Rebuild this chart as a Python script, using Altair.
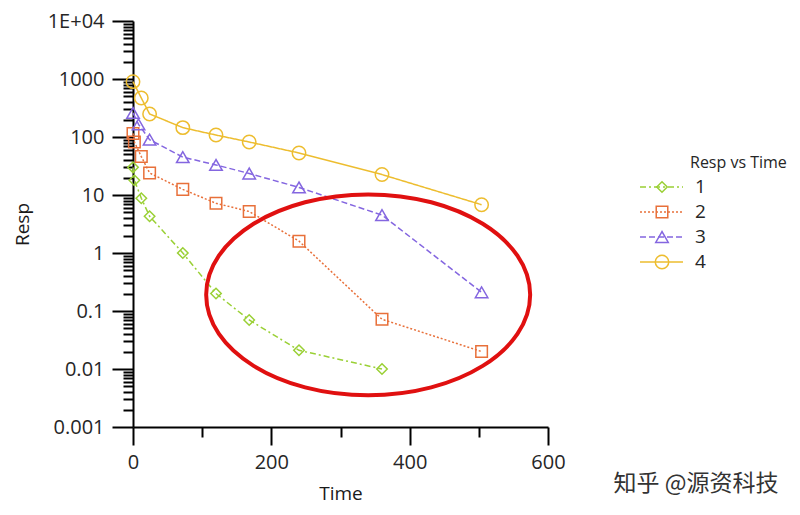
import altair as alt
import pandas as pd

# ---- data ----
series_names = ["1", "2", "3", "4"]
s1_time = [0, 2, 12, 24, 72, 120, 168, 240, 360]
s1_resp = [30, 18, 8.8, 4.3, 1.0, 0.2, 0.07, 0.021, 0.01]
s2_time = [0, 2, 12, 24, 72, 120, 168, 240, 360, 504]
s2_resp = [115, 82, 46, 24, 12.5, 7.2, 5.2, 1.6, 0.072, 0.02]
s3_time = [0, 8, 24, 72, 120, 168, 240, 360, 504]
s3_resp = [260, 165, 90, 45, 33, 23.5, 13.5, 4.5, 0.21]
s4_time = [0, 12, 24, 72, 120, 168, 240, 360, 504]
s4_resp = [900, 470, 250, 145, 108, 82, 53, 22.5, 6.8]

x_ticks = [0, 100, 200, 300, 400, 500, 600]
y_major = [0.001, 0.01, 0.1, 1, 10, 100, 1000, 10000]

# annotation ellipse (center in data units)
ell_time = [340]
ell_resp = [0.19]

colors = ["#9AD035", "#E8703A", "#8466E0", "#EDBD2F"]
shapes = ["diamond", "square", "triangle-up", "circle"]
dashes = [[6, 3, 2, 3], [2, 2], [6, 3], [1, 0]]
sizes = [110, 180, 150, 190]

rows = []
for name, ts, rs in zip(series_names, [s1_time, s2_time, s3_time, s4_time],
                        [s1_resp, s2_resp, s3_resp, s4_resp]):
    for t, r in zip(ts, rs):
        rows.append({"Time": t, "Resp": r, "Series": name})
df = pd.DataFrame(rows)

y_ticks = []
for m in y_major[:-1]:
    for k in range(1, 10):
        y_ticks.append(round(m * k, 6))
y_ticks.append(10000)

font = "Open Sans"
col_scale = alt.Scale(domain=series_names, range=colors)
dash_scale = alt.Scale(domain=series_names, range=dashes)
shape_scale = alt.Scale(domain=series_names, range=shapes)
size_scale = alt.Scale(domain=series_names, range=sizes)

x_scale = alt.Scale(domain=[0, 600], nice=False, zero=False)
y_scale = alt.Scale(type="log", domain=[0.001, 10000], nice=False)

pow10 = "abs(log(datum.value)/LN10 - round(log(datum.value)/LN10)) < 1e-6"

x_axis = alt.Axis(
    values=x_ticks,
    labelExpr="datum.value % 200 == 0 ? format(datum.value, 'd') : ''",
    tickSize={"condition": {"test": "datum.value % 200 == 0", "value": 18}, "value": 10},
    tickColor="black", tickWidth=2, domainColor="black", domainWidth=2,
    labelFont=font, labelFontSize=20, labelColor="#262626", labelPadding=7,
    labelFlush=False, labelOverlap=False, grid=False,
    title="Time", titleFont=font, titleFontSize=19, titleFontWeight="normal",
    titleColor="#1a1a1a", titlePadding=12,
)
y_axis = alt.Axis(
    values=y_ticks,
    labelExpr="datum.value >= 9999 ? '1E+04' : (" + pow10 + " ? format(datum.value, '~g') : '')",
    tickSize={"condition": {"test": pow10, "value": 21}, "value": 10},
    tickColor="black", tickWidth=2, domainColor="black", domainWidth=2,
    labelFont=font, labelFontSize=20, labelColor="#262626", labelPadding=8,
    labelFlush=False, labelOverlap=False, grid=False,
    title="Resp", titleFont=font, titleFontSize=19, titleFontWeight="normal",
    titleColor="#1a1a1a", titlePadding=15,
)

base = alt.Chart(df)
lines = base.mark_line(strokeWidth=1.5).encode(
    x=alt.X("Time:Q", scale=x_scale, axis=x_axis),
    y=alt.Y("Resp:Q", scale=y_scale, axis=y_axis),
    color=alt.Color("Series:N", scale=col_scale, legend=None),
    strokeDash=alt.StrokeDash("Series:N", scale=dash_scale, legend=None),
)
points = base.mark_point(filled=False, strokeWidth=1.5, opacity=1).encode(
    x=alt.X("Time:Q", scale=x_scale),
    y=alt.Y("Resp:Q", scale=y_scale),
    color=alt.Color("Series:N", scale=col_scale, legend=None),
    shape=alt.Shape("Series:N", scale=shape_scale, legend=None),
    size=alt.Size("Series:N", scale=size_scale, legend=None),
)
ellipse = alt.Chart(pd.DataFrame({"Time": ell_time, "Resp": ell_resp})).mark_point(
    shape="M -1 0 A 1 0.62 0 1 0 1 0 A 1 0.62 0 1 0 -1 0 Z",
    size=324 * 324, filled=False, stroke="#E01010", strokeWidth=4, opacity=1,
).encode(
    x=alt.X("Time:Q", scale=x_scale),
    y=alt.Y("Resp:Q", scale=y_scale),
)
data_layer = alt.layer(lines, points, ellipse)

# ---- manual legend (pixel positions) ----
leg = pd.DataFrame({"Series": series_names, "ly": [166, 191, 216, 241]})
leg_base = alt.Chart(leg)
leg_lines = leg_base.mark_rule(strokeWidth=1.5).encode(
    x=alt.value(507), x2=alt.value(550),
    y=alt.Y("ly:Q", scale=None, axis=None),
    color=alt.Color("Series:N", scale=col_scale, legend=None),
    strokeDash=alt.StrokeDash("Series:N", scale=dash_scale, legend=None),
)
leg_pts = leg_base.mark_point(filled=False, strokeWidth=1.5, opacity=1).encode(
    x=alt.value(529),
    y=alt.Y("ly:Q", scale=None, axis=None),
    color=alt.Color("Series:N", scale=col_scale, legend=None),
    shape=alt.Shape("Series:N", scale=shape_scale, legend=None),
    size=alt.Size("Series:N", scale=size_scale, legend=None),
)
leg_txt = leg_base.mark_text(align="left", baseline="middle", font=font,
                             fontSize=19, color="#262626").encode(
    x=alt.value(562),
    y=alt.Y("ly:Q", scale=None, axis=None),
    text="Series:N",
)
leg_title = alt.Chart(pd.DataFrame({"t": ["Resp vs Time"]})).mark_text(
    align="left", baseline="middle", font=font, fontSize=16, color="#262626"
).encode(x=alt.value(557), y=alt.value(142), text="t:N")

credit = alt.Chart(pd.DataFrame({"t": ["知乎 @源资科技"]})).mark_text(
    align="center", baseline="middle", font="Noto Sans CJK SC", fontSize=23,
    color="#333333"
).encode(x=alt.value(563), y=alt.value(463), text="t:N")

chart = alt.layer(
    data_layer, leg_lines, leg_pts, leg_txt, leg_title, credit
).resolve_scale(y="independent").properties(
    width=415, height=406,
    padding={"left": 125, "top": 13, "right": 244, "bottom": 80},
    autosize=alt.AutoSizeParams(type="none"),
    background="white",
).configure_view(stroke=None)

chart.save("out.html", embed_options={"renderer": "svg", "actions": False})
